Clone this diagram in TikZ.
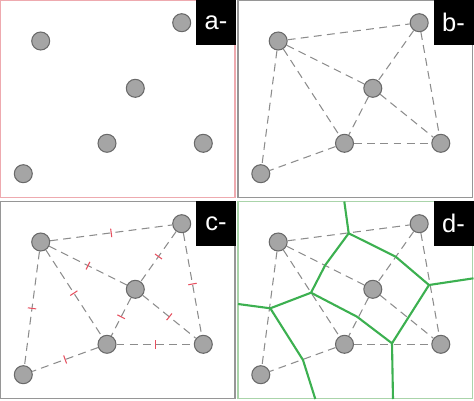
\documentclass[tikz,border=0pt]{standalone}
\usepackage{fontspec}
\setmainfont{Liberation Sans}
\usetikzlibrary{calc}

\definecolor{sitefill}{RGB}{165,165,165}
\definecolor{siteedge}{RGB}{105,105,105}
\definecolor{linkgrey}{RGB}{140,140,140}
\definecolor{framea}{RGB}{238,170,175}
\definecolor{framegrey}{RGB}{150,150,150}
\definecolor{framed}{RGB}{170,212,170}
\definecolor{cellgreen}{RGB}{60,176,80}
\definecolor{tickred}{RGB}{230,80,95}

\tikzset{
  site/.style={circle,fill=sitefill,draw=siteedge,line width=0.6pt,minimum size=0.36cm,inner sep=0pt},
  link/.style={draw=linkgrey,line width=0.6pt,dash pattern=on 4.5pt off 3pt},
  tag/.style={text=white,font=\fontsize{14.5}{14.5}\selectfont,inner sep=0pt},
  bisect/.style={draw=tickred,line width=0.6pt},
  cell/.style={draw=cellgreen,line width=1.2pt,line join=round}
}

\begin{document}
\begin{tikzpicture}[x=0.02cm,y=-0.02cm]
\useasboundingbox (0,0) rectangle (474,400);

% the four panels, same six sites in each
\foreach \p/\dx/\dy/\fc in {a/0/0/framea,b/237.5/0/framegrey,c/0/201/framegrey,d/237.5/201/framed} {
  \begin{scope}[shift={(\dx,\dy)}]
  \draw[\fc,line width=0.6pt] (0.5,0.5) rectangle (235,197.5);
  \fill[black] (196,0) rectangle (236,45);
  \node[tag] (tag\p) at (216,22.5) {\p-};
  \node[site] (\p1) at (40.7,41) {};
  \node[site] (\p2) at (181.7,22.7) {};
  \node[site] (\p3) at (135.3,88.3) {};
  \node[site] (\p4) at (107,143.3) {};
  \node[site] (\p5) at (203.3,143.3) {};
  \node[site] (\p6) at (23.3,173.7) {};
  \end{scope}
}

% triangulation
\foreach \p in {b,c,d}
  \foreach \i/\j in {1/2,1/3,1/4,1/6,2/3,2/5,3/4,3/5,4/5,4/6}
    \draw[link] (\p\i) -- (\p\j);

% perpendicular bisector marks
\foreach \i/\j in {1/2,1/3,1/4,1/6,2/3,2/5,3/4,3/5,4/5,4/6}
  \draw[bisect] ($(c\i)!0.5!(c\j)!0.085cm!90:(c\j)$) -- ($(c\i)!0.5!(c\j)!0.085cm!-90:(c\j)$);

% voronoi cells
\coordinate (vtop) at (344.3,201.5);
\coordinate (v1) at (348.7,233.3);
\coordinate (k1) at (395.7,256.7);
\coordinate (v2) at (429,285);
\coordinate (vright) at (473.5,278.3);
\coordinate (k2) at (325.3,265);
\coordinate (v3) at (311,292.7);
\coordinate (v4) at (270.3,308.3);
\coordinate (vleft) at (238,304);
\coordinate (k3) at (303,360);
\coordinate (vbot1) at (315.3,399);
\coordinate (k4) at (357,316.7);
\coordinate (v5) at (392,343.3);
\coordinate (vbot2) at (393,399);

\draw[cell] (vtop) -- (v1) -- (k1) -- (v2) -- (vright);
\draw[cell] (v1) -- (k2) -- (v3) -- (v4) -- (vleft);
\draw[cell] (v4) -- (k3) -- (vbot1);
\draw[cell] (v3) -- (k4) -- (v5) -- (v2);
\draw[cell] (v5) -- (vbot2);
\end{tikzpicture}
\end{document}
